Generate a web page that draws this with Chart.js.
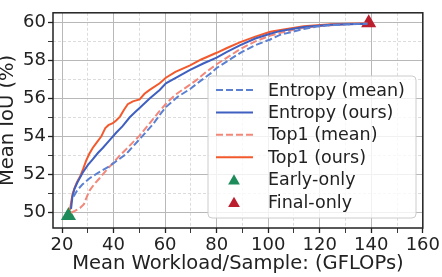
<!DOCTYPE html>
<html>
<head>
<meta charset="utf-8">
<script src="https://cdn.jsdelivr.net/npm/chart.js@4"></script>
<style>
  html, body { margin: 0; padding: 0; background: #fff; }
  #wrap { width: 442px; height: 277px; }
</style>
</head>
<body>
<div id="wrap"><canvas id="grafico" width="442" height="277"></canvas></div>
<script>
// dados
const entropyMeanX = [24.5, 26.0, 28.0, 30.6, 34.0, 38.4, 42.0, 45.0, 48.0, 51.0, 55.3, 58.0, 60.3, 65.0, 69.7, 74.0, 78.0, 80.0, 85.2, 89.2, 95.0, 100.8, 104.8, 113.8, 119.0, 124.2, 131.0, 138.5];
const entropyMeanY = [50.85, 51.2, 51.5, 51.8, 52.1, 52.45, 52.8, 53.1, 53.55, 54.0, 54.65, 55.15, 55.55, 56.1, 56.5, 56.95, 57.35, 57.6, 58.05, 58.4, 58.8, 59.1, 59.35, 59.65, 59.78, 59.85, 59.9, 59.93];

const entropyOursX = [23.5, 24.0, 24.8, 26.0, 28.0, 30.0, 31.9, 34.0, 35.8, 38.4, 41.0, 43.5, 46.2, 48.5, 50.1, 54.0, 57.9, 60.3, 65.0, 69.7, 75.0, 80.0, 84.0, 89.2, 95.0, 100.8, 104.8, 113.8, 124.2, 131.0, 138.5];
const entropyOursY = [50.2, 50.8, 51.25, 51.6, 52.1, 52.5, 52.8, 53.15, 53.4, 53.8, 54.2, 54.55, 55.0, 55.3, 55.5, 56.0, 56.45, 56.8, 57.15, 57.5, 57.85, 58.15, 58.45, 58.8, 59.15, 59.4, 59.55, 59.75, 59.87, 59.9, 59.93];

const top1MeanX = [23.5, 25.0, 27.0, 28.5, 29.5, 30.6, 32.5, 34.5, 37.0, 39.7, 42.0, 45.0, 50.1, 54.0, 57.9, 60.5, 64.0, 68.3, 72.0, 76.0, 80.0, 85.2, 89.2, 95.0, 100.8, 104.8, 113.8, 124.2, 131.0, 138.5];
const top1MeanY = [50.0, 50.1, 50.25, 50.45, 50.8, 51.15, 51.5, 51.8, 52.2, 52.6, 52.95, 53.35, 54.05, 54.7, 55.35, 55.75, 56.2, 56.6, 56.95, 57.4, 57.8, 58.25, 58.6, 59.0, 59.3, 59.45, 59.72, 59.85, 59.9, 59.94];

const top1OursX = [23.1, 23.6, 24.1, 25.0, 25.8, 27.0, 28.2, 29.4, 30.6, 31.9, 33.5, 35.2, 36.8, 38.0, 39.7, 41.0, 42.5, 44.0, 45.5, 47.5, 50.1, 52.0, 54.0, 57.9, 60.3, 64.0, 69.7, 74.0, 80.0, 84.0, 89.2, 95.0, 100.8, 104.8, 113.8, 119.0, 124.2, 131.0, 138.5];
const top1OursY = [50.15, 50.6, 51.0, 51.35, 51.6, 51.9, 52.3, 52.75, 53.1, 53.4, 53.7, 54.0, 54.45, 54.6, 54.7, 54.85, 55.05, 55.4, 55.7, 55.85, 55.95, 56.25, 56.45, 56.8, 57.09, 57.4, 57.74, 58.05, 58.4, 58.65, 58.96, 59.25, 59.5, 59.6, 59.8, 59.85, 59.9, 59.92, 59.95];

const earlyOnly = [22.5, 49.85];
const finalOnly = [139.0, 59.97];

const xTicks = [20, 30, 40, 50, 60, 70, 80, 90, 100, 110, 120, 130, 140, 150, 160];
const yTicks = [50, 51, 52, 53, 54, 55, 56, 57, 58, 59, 60];

const toPts = (xs, ys) => xs.map((x, i) => ({ x: x, y: ys[i] }));

Chart.defaults.font.family = "'DejaVu Sans', sans-serif";
Chart.defaults.color = '#222';

const FONT = "'DejaVu Sans', sans-serif";

// legenda desenhada dentro do gráfico
const legendaPlugin = {
  id: 'legendaInterna',
  afterDraw(chart) {
    const c = chart.ctx;
    c.save();
    // moldura dos eixos
    const a = chart.chartArea;
    c.strokeStyle = '#222';
    c.lineWidth = 1.5;
    c.strokeRect(a.left, a.top, a.right - a.left, a.bottom - a.top);

    const bx = 208, by = 76, bw = 208, bh = 142, r = 4;
    c.beginPath();
    c.moveTo(bx + r, by);
    c.arcTo(bx + bw, by, bx + bw, by + bh, r);
    c.arcTo(bx + bw, by + bh, bx, by + bh, r);
    c.arcTo(bx, by + bh, bx, by, r);
    c.arcTo(bx, by, bx + bw, by, r);
    c.closePath();
    c.fillStyle = 'rgba(255,255,255,0.8)';
    c.fill();
    c.strokeStyle = '#cccccc';
    c.lineWidth = 1;
    c.stroke();

    c.font = '17.5px ' + FONT;
    c.textBaseline = 'middle';
    chart.data.datasets.forEach((ds, i) => {
      const y = 90 + i * 22.4;
      if (ds.showLine) {
        c.strokeStyle = ds.borderColor;
        c.lineWidth = 2;
        c.setLineDash(ds.borderDash || []);
        c.beginPath();
        c.moveTo(216, y);
        c.lineTo(253, y);
        c.stroke();
        c.setLineDash([]);
      } else {
        const rr = 6.8;
        c.fillStyle = ds.backgroundColor;
        c.beginPath();
        c.moveTo(234, y - rr + 1.5);
        c.lineTo(234 + rr * 0.866, y + rr / 2 + 1.5);
        c.lineTo(234 - rr * 0.866, y + rr / 2 + 1.5);
        c.closePath();
        c.fill();
      }
      c.fillStyle = '#222';
      c.fillText(ds.label, 268, y + 1);
    });
    c.restore();
  }
};

const ctx = document.getElementById('grafico').getContext('2d');
new Chart(ctx, {
  type: 'scatter',
  data: {
    datasets: [
      {
        label: 'Entropy (mean)',
        data: toPts(entropyMeanX, entropyMeanY),
        showLine: true,
        borderColor: '#5b80d2',
        borderDash: [7, 3],
        borderWidth: 2,
        pointRadius: 0
      },
      {
        label: 'Entropy (ours)',
        data: toPts(entropyOursX, entropyOursY),
        showLine: true,
        borderColor: '#3f60c0',
        borderWidth: 2,
        pointRadius: 0
      },
      {
        label: 'Top1 (mean)',
        data: toPts(top1MeanX, top1MeanY),
        showLine: true,
        borderColor: '#f2877a',
        borderDash: [7, 3],
        borderWidth: 2,
        pointRadius: 0
      },
      {
        label: 'Top1 (ours)',
        data: toPts(top1OursX, top1OursY),
        showLine: true,
        borderColor: '#f25a2e',
        borderWidth: 2,
        pointRadius: 0
      },
      {
        label: 'Early-only',
        data: [{ x: earlyOnly[0], y: earlyOnly[1] }],
        showLine: false,
        pointStyle: 'triangle',
        pointRadius: 8.7,
        backgroundColor: '#1d8b5a',
        borderColor: '#1d8b5a',
        borderWidth: 0
      },
      {
        label: 'Final-only',
        data: [{ x: finalOnly[0], y: finalOnly[1] }],
        showLine: false,
        pointStyle: 'triangle',
        pointRadius: 8.7,
        backgroundColor: '#bd1e2e',
        borderColor: '#bd1e2e',
        borderWidth: 0
      }
    ]
  },
  options: {
    responsive: false,
    animation: false,
    layout: { padding: { top: 1, right: 17, left: 0, bottom: 0 } },
    plugins: {
      legend: { display: false },
      tooltip: { enabled: false }
    },
    scales: {
      x: {
        type: 'linear',
        min: 16.5,
        max: 160,
        afterBuildTicks: (s) => { s.ticks = xTicks.map(v => ({ value: v })); },
        afterFit: (s) => { s.height = 49; },
        ticks: {
          autoSkip: false,
          maxRotation: 0,
          padding: 2,
          font: { size: 18 },
          color: '#222',
          callback: (v) => (v % 20 === 0 ? String(v) : '')
        },
        grid: {
          color: (c) => (c.tick && c.tick.value % 20 !== 0 ? '#dcdcdc' : '#b8b8b8'),
          lineWidth: 1,
          tickColor: '#222',
          tickLength: 5,
          tickWidth: (c) => (c.tick && c.tick.value % 20 !== 0 ? 0.9 : 1.3)
        },
        border: {
          display: false,
          dash: (c) => (c.tick && c.tick.value % 20 !== 0 ? [3, 2] : [])
        },
        title: {
          display: true,
          text: 'Mean Workload/Sample: (GFLOPs)',
          font: { size: 19.5 },
          color: '#222',
          padding: { top: 0, bottom: 1 }
        }
      },
      y: {
        type: 'linear',
        min: 49.2,
        max: 60.5,
        afterBuildTicks: (s) => { s.ticks = yTicks.map(v => ({ value: v })); },
        afterFit: (s) => { s.width = 53; },
        ticks: {
          autoSkip: false,
          padding: 2,
          font: { size: 18 },
          color: '#222',
          callback: (v) => (v % 2 === 0 ? String(v) : '')
        },
        grid: {
          color: (c) => (c.tick && c.tick.value % 2 !== 0 ? '#dcdcdc' : '#b8b8b8'),
          lineWidth: 1,
          tickColor: '#222',
          tickLength: 5,
          tickWidth: (c) => (c.tick && c.tick.value % 2 !== 0 ? 0.9 : 1.3)
        },
        border: {
          display: false,
          dash: (c) => (c.tick && c.tick.value % 2 !== 0 ? [3, 2] : [])
        },
        title: {
          display: true,
          text: 'Mean IoU (%)',
          font: { size: 19.5, lineHeight: 0.85 },
          color: '#222',
          padding: 0
        }
      }
    }
  },
  plugins: [legendaPlugin]
});
</script>
</body>
</html>
